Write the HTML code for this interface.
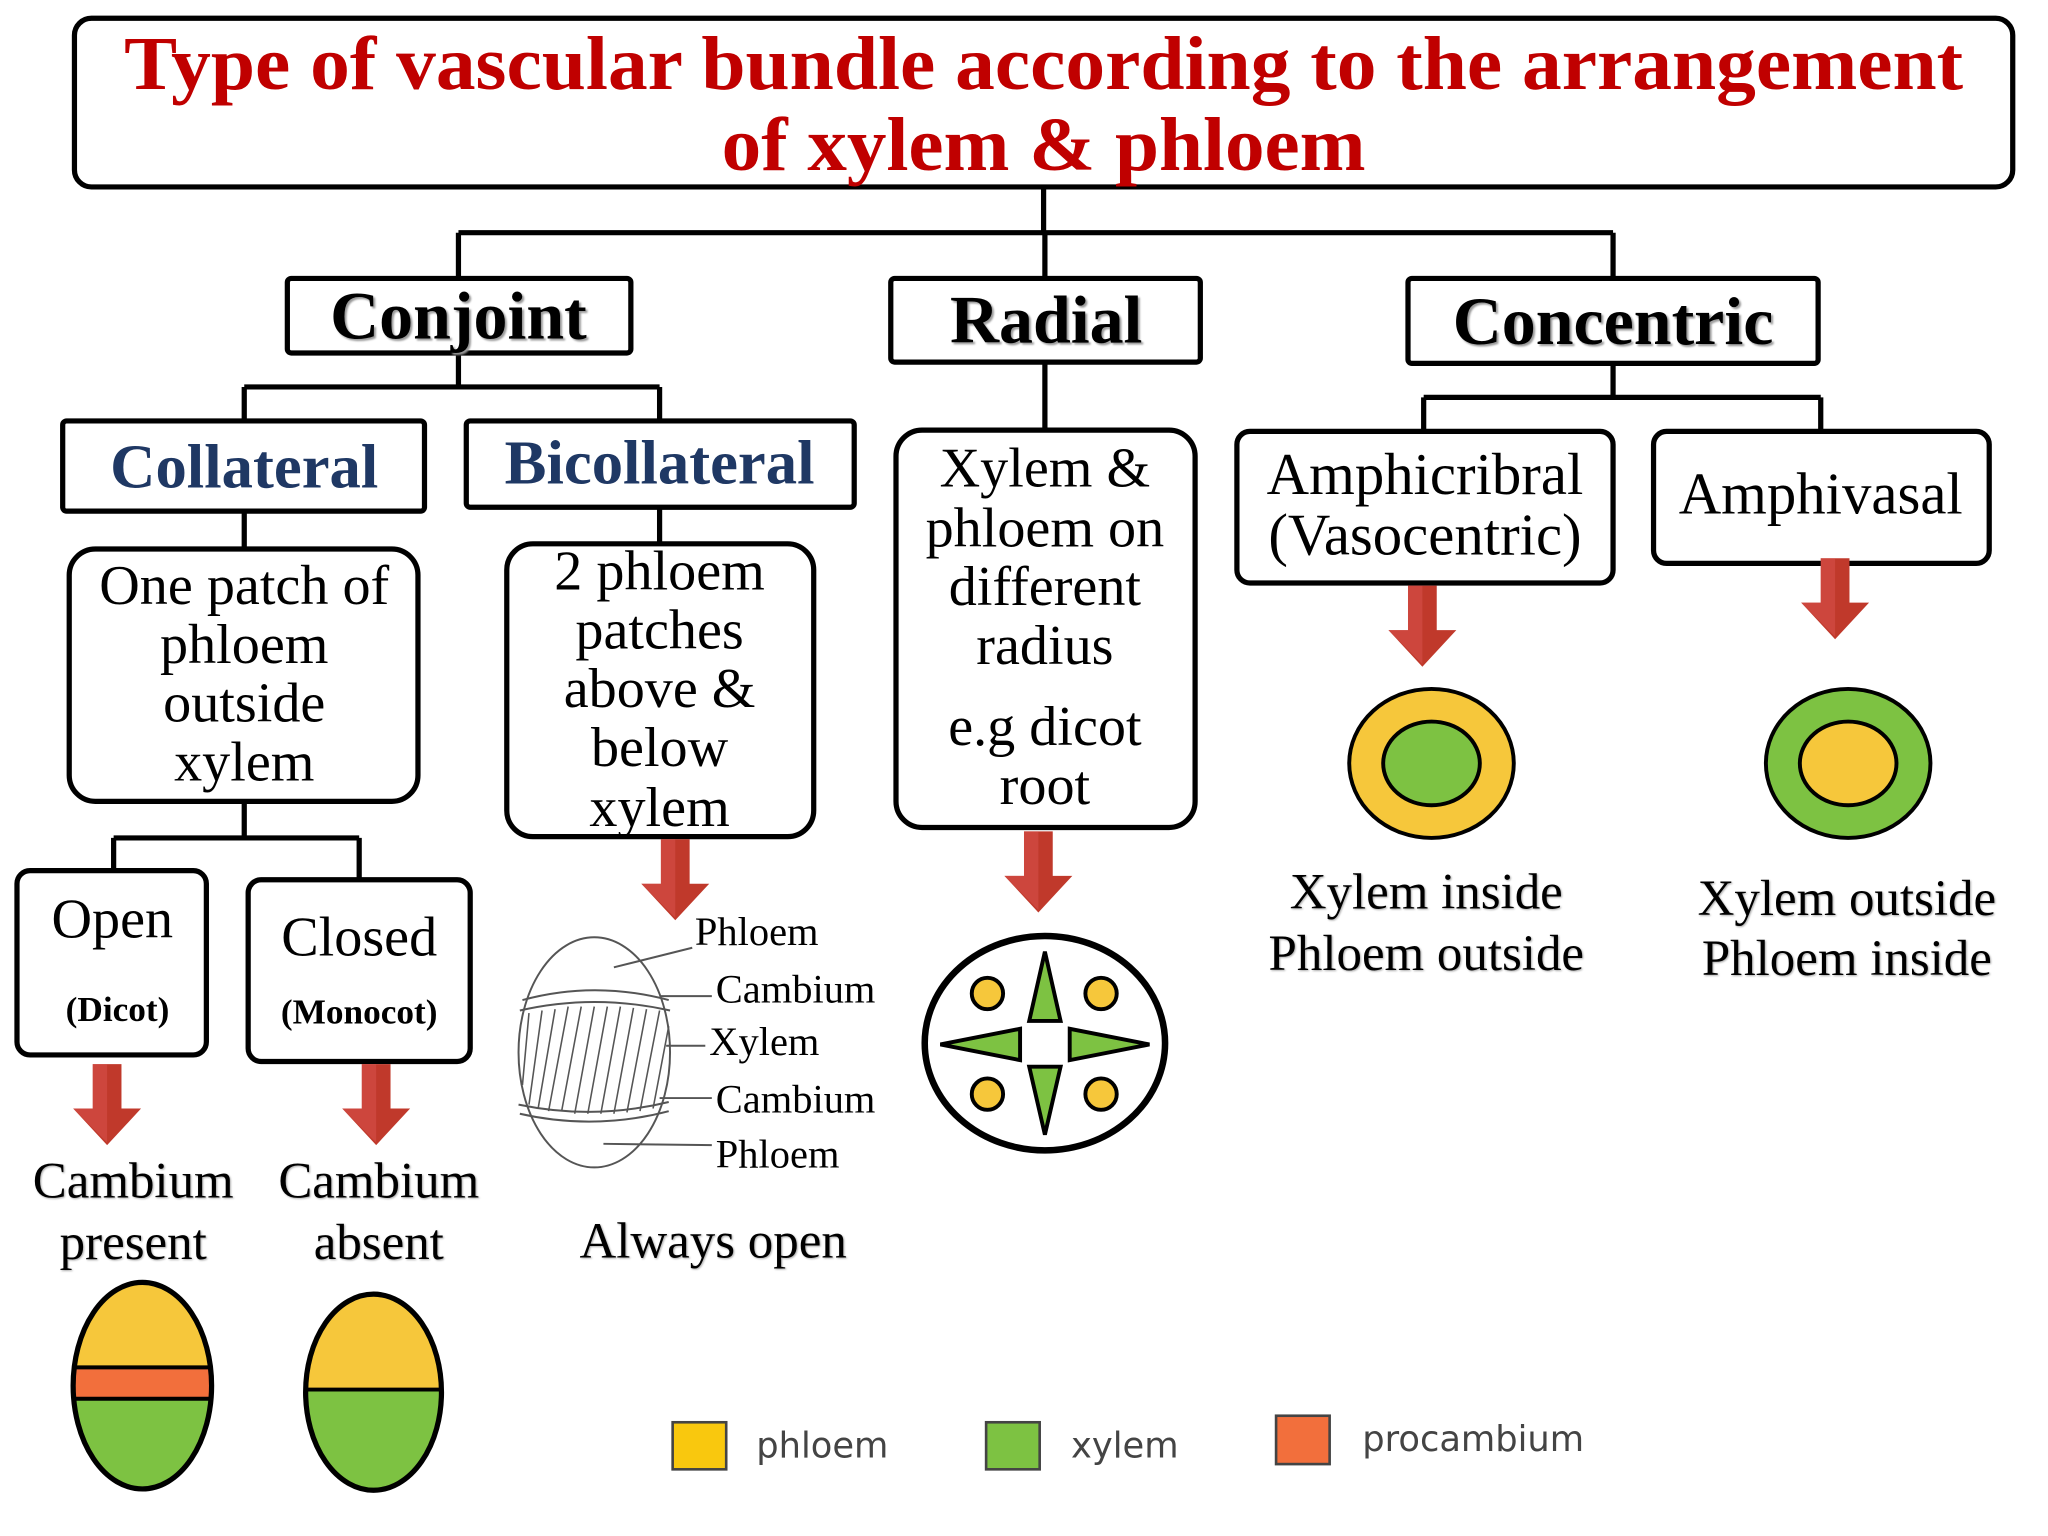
<!DOCTYPE html>
<html><head><style>html,body{margin:0;padding:0;background:#fff}svg{display:block}</style></head><body>
<svg width="2048" height="1536" viewBox="0 0 1568 1175" preserveAspectRatio="none" xmlns="http://www.w3.org/2000/svg" font-family="Liberation Serif, serif">
<defs>
<g id="arr"><path d="M-11,0 H11 V34 H26 L0,62 L-26,34 H-11 Z" fill="#c0392b"/><path d="M-11,0 H0 V60 L-26,34 H-11 Z" fill="#d9534f" opacity="0.5"/></g>
</defs>
<rect width="1568" height="1175" fill="#fff"/>
<g fill="none" stroke="#000" stroke-width="4">
<rect x="57" y="14" width="1484" height="129" rx="13"/>
<path d="M799,143 V178 M351,178 H1235 M351,178 V213 M800,178 V213 M1235,178 V213"/>
<rect x="220" y="213" width="263" height="57" rx="3"/>
<rect x="682" y="213" width="237" height="64" rx="3"/>
<rect x="1078" y="213" width="314" height="65" rx="3"/>
<path d="M351,270 V296 M187,296 H505 M187,296 V322 M505,296 V322"/>
<rect x="48" y="322" width="277" height="69" rx="3"/>
<rect x="357" y="322" width="297" height="66" rx="3"/>
<path d="M187,391 V420 M505,388 V416 M800,277 V329 M1235,278 V304 M1090,304 H1394 M1090,304 V330 M1394,304 V330"/>
<rect x="53" y="420" width="267" height="193" rx="20"/>
<rect x="388" y="416" width="235" height="224" rx="20"/>
<rect x="686" y="329" width="229" height="304" rx="20"/>
<rect x="947" y="330" width="288" height="116" rx="10"/>
<rect x="1266" y="330" width="257" height="101" rx="10"/>
<path d="M187,613 V641 M87,641 H275 M87,641 V666 M275,641 V673"/>
<rect x="13" y="666" width="145" height="141" rx="10"/>
<rect x="190" y="673" width="170" height="139" rx="10"/>
</g>
<g fill="#c00000" font-weight="bold" font-size="58" text-anchor="middle">
<text x="799" y="68" textLength="1408" lengthAdjust="spacingAndGlyphs">Type of vascular bundle according to the arrangement</text>
<text x="799" y="130" textLength="493" lengthAdjust="spacingAndGlyphs">of xylem &amp; phloem</text>
</g>
<g font-weight="bold" font-size="52" text-anchor="middle" fill="#000" style="text-shadow:2px 2px 2px #999">
<text x="351" y="259">Conjoint</text>
<text x="801" y="262">Radial</text>
<text x="1235" y="263">Concentric</text>
</g>
<g font-weight="bold" font-size="48" text-anchor="middle" fill="#1f3864">
<text x="187" y="373">Collateral</text>
<text x="505" y="370">Bicollateral</text>
</g>
<g font-size="43" text-anchor="middle" fill="#000">
<text x="187" y="462">One patch of</text><text x="187" y="507">phloem</text><text x="187" y="552">outside</text><text x="187" y="597">xylem</text>
<text x="505" y="451">2 phloem</text><text x="505" y="496">patches</text><text x="505" y="541">above &amp;</text><text x="505" y="586">below</text><text x="505" y="632">xylem</text>
<text x="800" y="372">Xylem &amp;</text><text x="800" y="418">phloem on</text><text x="800" y="463">different</text><text x="800" y="508">radius</text><text x="800" y="570">e.g dicot</text><text x="800" y="615">root</text>
<text x="1091" y="378" font-size="45">Amphicribral</text><text x="1091" y="424" font-size="45">(Vasocentric)</text>
<text x="1394" y="393" font-size="45">Amphivasal</text>
<text x="86" y="717">Open</text><text x="275" y="731">Closed</text>
</g>
<g font-size="27" font-weight="bold" text-anchor="middle"><text x="90" y="781">(Dicot)</text><text x="275" y="783">(Monocot)</text></g>
<g font-size="39" text-anchor="middle" fill="#000" style="text-shadow:1px 1px 2px #aaa">
<text x="102" y="916">Cambium</text><text x="102" y="963">present</text>
<text x="290" y="916">Cambium</text><text x="290" y="963">absent</text>
<text x="546" y="962">Always open</text>
<text x="1092" y="695">Xylem inside</text><text x="1092" y="742">Phloem outside</text>
<text x="1414" y="700">Xylem outside</text><text x="1414" y="746">Phloem inside</text>
</g>
<use href="#arr" x="82" y="814"/><use href="#arr" x="288" y="814"/><use href="#arr" x="517" y="642"/>
<use href="#arr" x="795" y="636"/><use href="#arr" x="1089" y="448"/><use href="#arr" x="1405" y="427"/>
<clipPath id="c1"><ellipse cx="109" cy="1060" rx="53" ry="79"/></clipPath>
<g clip-path="url(#c1)"><rect x="50" y="975" width="120" height="72" fill="#f6c73b"/><rect x="50" y="1046" width="120" height="24" fill="#f26f3c"/><rect x="50" y="1070" width="120" height="80" fill="#7dc242"/></g>
<path d="M56,1046 H162 M56,1070 H162" stroke="#000" stroke-width="3"/>
<ellipse cx="109" cy="1060" rx="53" ry="79" fill="none" stroke="#000" stroke-width="4"/>
<clipPath id="c2"><ellipse cx="286" cy="1065" rx="52" ry="75"/></clipPath>
<g clip-path="url(#c2)"><rect x="230" y="985" width="115" height="78" fill="#f6c73b"/><rect x="230" y="1063" width="115" height="80" fill="#7dc242"/></g>
<path d="M234,1063 H338" stroke="#000" stroke-width="3"/>
<ellipse cx="286" cy="1065" rx="52" ry="75" fill="none" stroke="#000" stroke-width="4"/>
<g stroke="#555" stroke-width="1.5" fill="none">
<ellipse cx="455" cy="805" rx="58" ry="88"/>
<path d="M400,765 Q455,750 512,765 M398,773 Q455,760 513,773 M397,845 Q455,857 512,843 M398,852 Q455,865 512,850"/>
<g stroke-width="1.2"><path d="M405,775 L400,830 M415,773 L405,845 M425,772 L412,848 M435,770 L420,850 M445,770 L430,850 M455,770 L440,852 M465,770 L450,852 M475,770 L460,852 M485,771 L470,852 M495,772 L480,851 M505,773 L490,850 M512,785 L500,848"/></g>
<path d="M530,725 L470,740 M545,762 L505,762 M540,800 L510,800 M545,840 L505,840 M545,876 L462,875"/>
</g>
<g font-size="31" fill="#000"><text x="532" y="723">Phloem</text><text x="548" y="767">Cambium</text><text x="543" y="807">Xylem</text><text x="548" y="851">Cambium</text><text x="548" y="893">Phloem</text></g>
<ellipse cx="800" cy="798" rx="92" ry="82" fill="#fff" stroke="#000" stroke-width="5"/>
<g fill="#7dc242" stroke="#000" stroke-width="3" stroke-linejoin="miter">
<path d="M800,728 L812,781 H788 Z"/><path d="M800,868 L812,816 H788 Z"/>
<path d="M720,799 L781,787 V811 Z"/><path d="M880,799 L819,787 V811 Z"/>
</g>
<g fill="#f6c73b" stroke="#000" stroke-width="3"><circle cx="756" cy="760" r="12"/><circle cx="843" cy="760" r="12"/><circle cx="756" cy="837" r="12"/><circle cx="843" cy="837" r="12"/></g>
<ellipse cx="1096" cy="584" rx="63" ry="57" fill="#f6c73b" stroke="#000" stroke-width="3"/>
<ellipse cx="1096" cy="584" rx="37" ry="32" fill="#7dc242" stroke="#000" stroke-width="3"/>
<ellipse cx="1415" cy="584" rx="63" ry="57" fill="#7dc242" stroke="#000" stroke-width="3"/>
<ellipse cx="1415" cy="584" rx="37" ry="32" fill="#f6c73b" stroke="#000" stroke-width="3"/>
<rect x="515" y="1088" width="41" height="36" fill="#f9c80e" stroke="#444" stroke-width="2"/>
<rect x="755" y="1088" width="41" height="36" fill="#7dc242" stroke="#444" stroke-width="2"/>
<rect x="977" y="1083" width="41" height="37" fill="#f26f3c" stroke="#444" stroke-width="2"/>
<g font-family="DejaVu Sans, sans-serif" font-size="27" fill="#444"><text x="579" y="1115">phloem</text><text x="820" y="1115">xylem</text><text x="1043" y="1110">procambium</text></g>
</svg>
</body></html>
